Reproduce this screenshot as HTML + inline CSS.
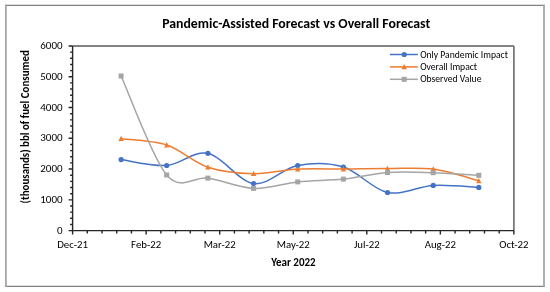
<!DOCTYPE html>
<html><head><meta charset="utf-8"><title>Pandemic-Assisted Forecast vs Overall Forecast</title>
<style>
html,body{margin:0;padding:0;background:#fff;width:550px;height:292px;overflow:hidden}
svg{display:block}
text{font-family:Carlito, 'Liberation Sans', sans-serif;fill:#000}
</style></head><body>
<svg width="550" height="292" viewBox="0 0 550 292">
<rect x="0" y="0" width="550" height="292" fill="#fff"/>
<path d="M4.9,5.4 H544.9 M4.9,286.4 H544.9" stroke="#808080" stroke-width="1.3" fill="none"/>
<path d="M5.85,4.8 V287 M544,4.8 V287" stroke="#a6a6a6" stroke-width="1.8" fill="none"/>
<text x="296.2" y="27.8" text-anchor="middle" style="font-weight:bold;font-size:13.8px" textLength="268.05" lengthAdjust="spacingAndGlyphs">Pandemic-Assisted Forecast vs Overall Forecast</text>

<path d="M72.6,46.0 H513.9" fill="none" stroke="#5a5a5a" stroke-width="1.4"/>
<path d="M513.9,46.0 V230.6" fill="none" stroke="#6a6a6a" stroke-width="1.6"/>
<path d="M72.6,46.0 V234.6 M68.6,230.6 H513.9 M68.6,230.60 H72.6 M72.60,230.6 V234.6 M68.6,199.83 H72.6 M146.15,230.6 V234.6 M68.6,169.07 H72.6 M219.70,230.6 V234.6 M68.6,138.30 H72.6 M293.25,230.6 V234.6 M68.6,107.53 H72.6 M366.80,230.6 V234.6 M68.6,76.77 H72.6 M440.35,230.6 V234.6 M68.6,46.00 H72.6 M513.90,230.6 V234.6 M70.1,224.45 H72.6 M87.31,230.6 V233.4 M70.1,218.29 H72.6 M102.02,230.6 V233.4 M70.1,212.14 H72.6 M116.73,230.6 V233.4 M70.1,205.99 H72.6 M131.44,230.6 V233.4 M70.1,193.68 H72.6 M160.86,230.6 V233.4 M70.1,187.53 H72.6 M175.57,230.6 V233.4 M70.1,181.37 H72.6 M190.28,230.6 V233.4 M70.1,175.22 H72.6 M204.99,230.6 V233.4 M70.1,162.91 H72.6 M234.41,230.6 V233.4 M70.1,156.76 H72.6 M249.12,230.6 V233.4 M70.1,150.61 H72.6 M263.83,230.6 V233.4 M70.1,144.45 H72.6 M278.54,230.6 V233.4 M70.1,132.15 H72.6 M307.96,230.6 V233.4 M70.1,125.99 H72.6 M322.67,230.6 V233.4 M70.1,119.84 H72.6 M337.38,230.6 V233.4 M70.1,113.69 H72.6 M352.09,230.6 V233.4 M70.1,101.38 H72.6 M381.51,230.6 V233.4 M70.1,95.23 H72.6 M396.22,230.6 V233.4 M70.1,89.07 H72.6 M410.93,230.6 V233.4 M70.1,82.92 H72.6 M425.64,230.6 V233.4 M70.1,70.61 H72.6 M455.06,230.6 V233.4 M70.1,64.46 H72.6 M469.77,230.6 V233.4 M70.1,58.31 H72.6 M484.48,230.6 V233.4 M70.1,52.15 H72.6 M499.19,230.6 V233.4" fill="none" stroke="#262626" stroke-width="1.4"/>
<text x="62.6" y="233.70" text-anchor="end" style="font-size:11px" textLength="5.58" lengthAdjust="spacingAndGlyphs">0</text>
<text x="62.6" y="202.93" text-anchor="end" style="font-size:11px" textLength="22.31" lengthAdjust="spacingAndGlyphs">1000</text>
<text x="62.6" y="172.17" text-anchor="end" style="font-size:11px" textLength="22.31" lengthAdjust="spacingAndGlyphs">2000</text>
<text x="62.6" y="141.40" text-anchor="end" style="font-size:11px" textLength="22.31" lengthAdjust="spacingAndGlyphs">3000</text>
<text x="62.6" y="110.63" text-anchor="end" style="font-size:11px" textLength="22.31" lengthAdjust="spacingAndGlyphs">4000</text>
<text x="62.6" y="79.87" text-anchor="end" style="font-size:11px" textLength="22.31" lengthAdjust="spacingAndGlyphs">5000</text>
<text x="62.6" y="49.10" text-anchor="end" style="font-size:11px" textLength="22.31" lengthAdjust="spacingAndGlyphs">6000</text>
<text x="72.60" y="248.0" text-anchor="middle" style="font-size:10.8px" textLength="30.84" lengthAdjust="spacingAndGlyphs">Dec-21</text>
<text x="146.15" y="248.0" text-anchor="middle" style="font-size:10.8px" textLength="30.11" lengthAdjust="spacingAndGlyphs">Feb-22</text>
<text x="219.70" y="248.0" text-anchor="middle" style="font-size:10.8px" textLength="32.11" lengthAdjust="spacingAndGlyphs">Mar-22</text>
<text x="293.25" y="248.0" text-anchor="middle" style="font-size:10.8px" textLength="33.11" lengthAdjust="spacingAndGlyphs">May-22</text>
<text x="366.80" y="248.0" text-anchor="middle" style="font-size:10.8px" textLength="25.84" lengthAdjust="spacingAndGlyphs">Jul-22</text>
<text x="440.35" y="248.0" text-anchor="middle" style="font-size:10.8px" textLength="31.27" lengthAdjust="spacingAndGlyphs">Aug-22</text>
<text x="513.90" y="248.0" text-anchor="middle" style="font-size:10.8px" textLength="29.25" lengthAdjust="spacingAndGlyphs">Oct-22</text>
<text x="293.4" y="265.5" text-anchor="middle" style="font-weight:bold;font-size:11px" textLength="44.50" lengthAdjust="spacingAndGlyphs">Year 2022</text>
<text transform="translate(29.2,126.85) rotate(-90)" x="0" y="0" text-anchor="middle" style="font-weight:bold;font-size:10.95px" textLength="153.31" lengthAdjust="spacingAndGlyphs">(thousands) bbl of fuel Consumed</text>
<path d="M121.10,159.60 C128.70,160.58 152.23,166.55 166.70,165.50 C181.17,164.45 193.42,150.30 207.90,153.30 C222.38,156.30 238.63,181.47 253.60,183.50 C268.57,185.53 282.73,168.25 297.70,165.50 C312.67,162.75 328.43,162.50 343.40,167.00 C358.37,171.50 372.53,189.43 387.50,192.50 C402.47,195.57 417.98,186.25 433.20,185.40 C448.42,184.55 471.20,187.07 478.80,187.40" fill="none" stroke="#4472C4" stroke-width="1.5" stroke-linejoin="round" stroke-linecap="round"/>
<circle cx="121.10" cy="159.60" r="2.6" fill="#4472C4"/>
<circle cx="166.70" cy="165.50" r="2.6" fill="#4472C4"/>
<circle cx="207.90" cy="153.30" r="2.6" fill="#4472C4"/>
<circle cx="253.60" cy="183.50" r="2.6" fill="#4472C4"/>
<circle cx="297.70" cy="165.50" r="2.6" fill="#4472C4"/>
<circle cx="343.40" cy="167.00" r="2.6" fill="#4472C4"/>
<circle cx="387.50" cy="192.50" r="2.6" fill="#4472C4"/>
<circle cx="433.20" cy="185.40" r="2.6" fill="#4472C4"/>
<circle cx="478.80" cy="187.40" r="2.6" fill="#4472C4"/>
<path d="M121.10,138.70 C128.70,139.75 152.23,140.25 166.70,145.00 C181.17,149.75 193.42,162.42 207.90,167.20 C222.38,171.98 238.63,173.38 253.60,173.70 C268.57,174.02 282.73,169.88 297.70,169.10 C312.67,168.32 328.43,169.08 343.40,169.00 C358.37,168.92 372.53,168.58 387.50,168.60 C402.47,168.62 417.98,167.07 433.20,169.10 C448.42,171.13 471.20,178.85 478.80,180.80" fill="none" stroke="#ED7D31" stroke-width="1.5" stroke-linejoin="round" stroke-linecap="round"/>
<path d="M121.10,135.80 L123.80,141.10 L118.40,141.10 Z" fill="#ED7D31"/>
<path d="M166.70,142.10 L169.40,147.40 L164.00,147.40 Z" fill="#ED7D31"/>
<path d="M207.90,164.30 L210.60,169.60 L205.20,169.60 Z" fill="#ED7D31"/>
<path d="M253.60,170.80 L256.30,176.10 L250.90,176.10 Z" fill="#ED7D31"/>
<path d="M297.70,166.20 L300.40,171.50 L295.00,171.50 Z" fill="#ED7D31"/>
<path d="M343.40,166.10 L346.10,171.40 L340.70,171.40 Z" fill="#ED7D31"/>
<path d="M387.50,165.70 L390.20,171.00 L384.80,171.00 Z" fill="#ED7D31"/>
<path d="M433.20,166.20 L435.90,171.50 L430.50,171.50 Z" fill="#ED7D31"/>
<path d="M478.80,177.90 L481.50,183.20 L476.10,183.20 Z" fill="#ED7D31"/>
<path d="M121.10,76.00 C128.70,92.50 152.23,157.98 166.70,175.00 C181.17,192.02 193.42,175.87 207.90,178.10 C222.38,180.33 238.63,187.77 253.60,188.40 C268.57,189.03 282.73,183.45 297.70,181.90 C312.67,180.35 328.43,180.67 343.40,179.10 C358.37,177.53 372.53,173.57 387.50,172.50 C402.47,171.43 417.98,172.23 433.20,172.70 C448.42,173.17 471.20,174.87 478.80,175.30" fill="none" stroke="#A5A5A5" stroke-width="1.5" stroke-linejoin="round" stroke-linecap="round"/>
<rect x="118.60" y="73.50" width="5" height="5" fill="#A5A5A5"/>
<rect x="164.20" y="172.50" width="5" height="5" fill="#A5A5A5"/>
<rect x="205.40" y="175.60" width="5" height="5" fill="#A5A5A5"/>
<rect x="251.10" y="185.90" width="5" height="5" fill="#A5A5A5"/>
<rect x="295.20" y="179.40" width="5" height="5" fill="#A5A5A5"/>
<rect x="340.90" y="176.60" width="5" height="5" fill="#A5A5A5"/>
<rect x="385.00" y="170.00" width="5" height="5" fill="#A5A5A5"/>
<rect x="430.70" y="170.20" width="5" height="5" fill="#A5A5A5"/>
<rect x="476.30" y="172.80" width="5" height="5" fill="#A5A5A5"/>
<path d="M389.9,54.5 H417.8" stroke="#4472C4" stroke-width="1.5"/>
<circle cx="404.20" cy="54.50" r="2.6" fill="#4472C4"/>
<text x="420.2" y="57.6" style="font-size:9.65px" textLength="87.67" lengthAdjust="spacingAndGlyphs">Only Pandemic Impact</text>
<path d="M389.9,66.9 H417.8" stroke="#ED7D31" stroke-width="1.5"/>
<path d="M404.20,64.00 L406.90,69.30 L401.50,69.30 Z" fill="#ED7D31"/>
<text x="420.2" y="69.6" style="font-size:9.65px" textLength="56.86" lengthAdjust="spacingAndGlyphs">Overall Impact</text>
<path d="M389.9,79.3 H417.8" stroke="#A5A5A5" stroke-width="1.5"/>
<rect x="401.70" y="76.80" width="5" height="5" fill="#A5A5A5"/>
<text x="420.2" y="81.9" style="font-size:9.65px" textLength="61.25" lengthAdjust="spacingAndGlyphs">Observed Value</text>
</svg></body></html>
